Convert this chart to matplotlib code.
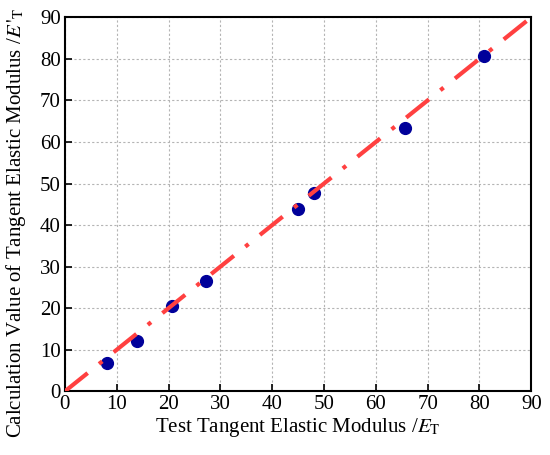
import matplotlib
matplotlib.use('Agg')
import matplotlib.pyplot as plt

plt.rcParams['font.family'] = ['Liberation Serif', 'DejaVu Serif']
plt.rcParams['mathtext.fontset'] = 'stix'

# measured values
test_vals = [8.2, 13.9, 20.7, 27.3, 44.9, 48.1, 65.6, 80.9]
calc_vals = [6.9, 12.2, 20.6, 26.6, 43.8, 47.6, 63.4, 80.7]
line_x = [0, 90]
line_y = [0, 90]

fig = plt.figure(figsize=(5.5, 4.55), dpi=100)
ax = fig.add_axes([0.118, 0.14, 0.848, 0.822])

ax.grid(True, linestyle=(0, (2, 2)), color='#b4b4b4', linewidth=0.8)
ax.set_axisbelow(True)

ax.plot(test_vals, calc_vals, 'o', color='#00009a', markersize=8.5, zorder=3)
ax.plot(line_x, line_y, color='#ff4040', linewidth=3,
        linestyle=(0, (7, 3.5, 1, 3.5)), zorder=4)

ax.set_xlim(0, 90)
ax.set_ylim(0, 90)
ax.set_xticks(range(0, 91, 10))
ax.set_yticks(range(0, 91, 10))
ax.tick_params(direction='in', labelsize=15, length=5, width=1.2, pad=3)
for s in ax.spines.values():
    s.set_linewidth(1.5)

ax.set_xlabel('Test Tangent Elastic Modulus /$E_\\mathrm{T}$', fontsize=15, labelpad=1)
ax.set_ylabel("Calculation Value of Tangent Elastic Modulus /$E\\,'_\\mathrm{T}$",
              fontsize=15)
ax.yaxis.set_label_coords(-0.08, 0.45)

fig.savefig('out.png', dpi=100)
